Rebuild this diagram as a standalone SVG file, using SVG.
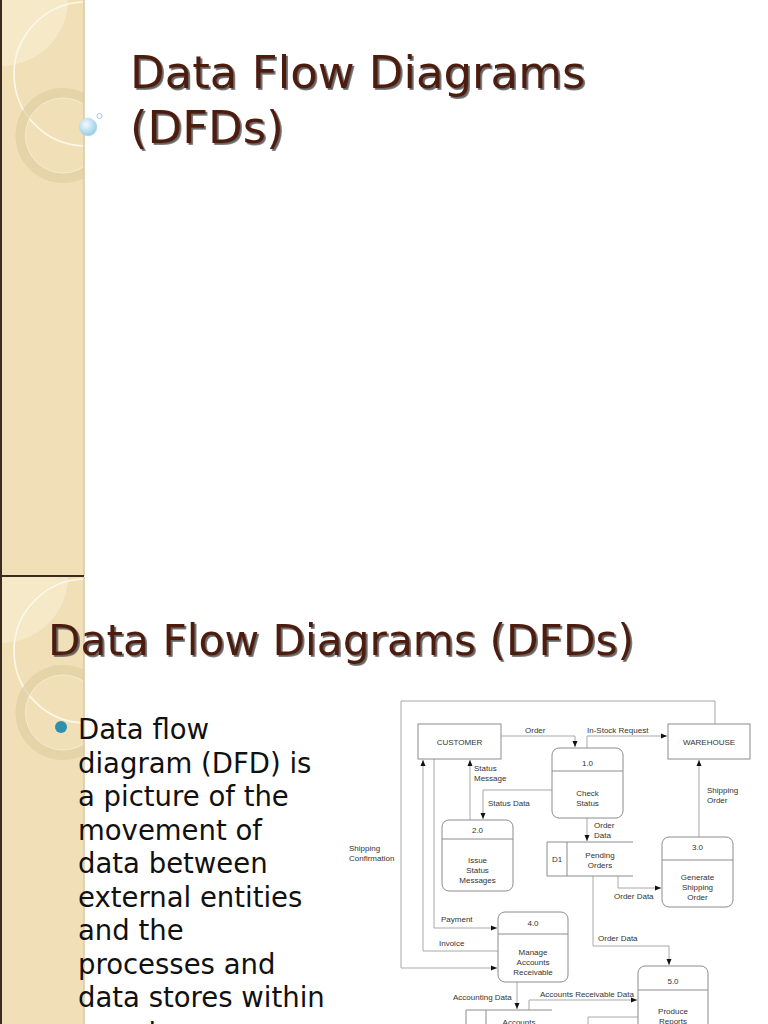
<svg xmlns="http://www.w3.org/2000/svg" width="768" height="1024" viewBox="0 0 768 1024">
<defs>
  <style>
    .title{font-family:"DejaVu Sans","Liberation Sans",sans-serif;fill:#4e1c0e;filter:url(#sh)}
    .body{font-family:"DejaVu Sans","Liberation Sans",sans-serif;font-size:27.5px;fill:#111}
    .dt{font-family:"Liberation Sans",Arial,sans-serif;font-size:8px;fill:#333}
    .c{text-anchor:middle}
    .box{fill:#fff;stroke:#8c8c8c;stroke-width:1}
    .ln{fill:none;stroke:#a8a8a8;stroke-width:1}
    .arr{fill:none;stroke:#a8a8a8;stroke-width:1;marker-end:url(#ah)}
    .strip{fill:#f1e0b7}
  </style>
  <filter id="sh" x="-5%" y="-20%" width="110%" height="140%">
    <feDropShadow dx="1.8" dy="1.8" stdDeviation="0.5" flood-color="#5a5a5a" flood-opacity="0.95"/>
  </filter>
  <marker id="ah" viewBox="0 0 6 6" refX="6" refY="3" markerWidth="6" markerHeight="6" markerUnits="userSpaceOnUse" orient="auto">
    <path d="M0,0.5 L6,3 L0,5.5 Z" fill="#111"/>
  </marker>
  <radialGradient id="bub" cx="0.4" cy="0.35" r="0.7">
    <stop offset="0" stop-color="#f4fbff"/>
    <stop offset="1" stop-color="#8fc8e4"/>
  </radialGradient>
  <clipPath id="cs1"><rect x="0" y="0" width="84" height="576"/></clipPath>
  <clipPath id="cs2"><rect x="0" y="577" width="84" height="447"/></clipPath>
  <g id="deco">
    <path d="M0,0 H68 A68,66 0 0 1 0,66 Z" fill="#fbf3dd" opacity="0.45"/>
    <circle cx="86" cy="74" r="72" fill="none" stroke="#fdf8ea" stroke-width="1.6"/>
    <circle cx="63" cy="135.5" r="42.5" fill="none" stroke="#dccb9f" stroke-width="10" opacity="0.6"/>
    <circle cx="63" cy="135.5" r="37.5" fill="none" stroke="#f8efd6" stroke-width="1" opacity="0.8"/>
  </g>
</defs>
<rect x="0" y="0" width="768" height="1024" fill="#fff"/>

<!-- slide 1 -->
<rect class="strip" x="0" y="0" width="84" height="576"/>
<g clip-path="url(#cs1)"><use href="#deco"/></g>
<line x1="84" y1="0" x2="84" y2="576" stroke="#d9c9a2" stroke-width="1.5"/>
<line x1="1" y1="0" x2="1" y2="576" stroke="#3b2a1e" stroke-width="2"/>
<circle cx="88" cy="127" r="9" fill="url(#bub)" stroke="#b7dcee" stroke-width="0.5"/>
<circle cx="99.5" cy="116" r="2.6" fill="#f4fbff" stroke="#8fc3de" stroke-width="0.8"/>
<text class="title" x="130" y="88" font-size="45">Data Flow Diagrams</text>
<text class="title" x="130" y="143" font-size="45">(DFDs)</text>

<!-- slide 2 -->
<rect class="strip" x="0" y="577" width="84" height="447"/>
<g clip-path="url(#cs2)"><use href="#deco" transform="translate(0,577)"/></g>
<line x1="84" y1="577" x2="84" y2="1024" stroke="#d9c9a2" stroke-width="1.5"/>
<line x1="1" y1="577" x2="1" y2="1024" stroke="#3b2a1e" stroke-width="2"/>
<line x1="0" y1="576" x2="84" y2="576" stroke="#3b2a1e" stroke-width="2"/>
<text class="title" x="48" y="655" font-size="42.3">Data Flow Diagrams (DFDs)</text>
<circle cx="61" cy="727" r="6" fill="#2f8fae"/>
<text class="body">
  <tspan x="78" y="739">Data flow</tspan>
  <tspan x="78" y="772.5">diagram (DFD) is</tspan>
  <tspan x="78" y="806">a picture of the</tspan>
  <tspan x="78" y="839.5">movement of</tspan>
  <tspan x="78" y="873">data between</tspan>
  <tspan x="78" y="906.5">external entities</tspan>
  <tspan x="78" y="940">and the</tspan>
  <tspan x="78" y="973.5">processes and</tspan>
  <tspan x="78" y="1007">data stores within</tspan>
  <tspan x="78" y="1040.5">a system</tspan>
</text>

<!-- DFD connectors -->
<g id="connectors">
  <path class="arr" d="M501,736 H575 V747"/>
  <path class="arr" d="M587,748 V736 H667"/>
  <path class="arr" d="M470,820 V760"/>
  <path class="arr" d="M552,790 H483 V819"/>
  <path class="arr" d="M587,818 V841"/>
  <path class="arr" d="M618,876 V888 H661"/>
  <path class="arr" d="M699,837 V760"/>
  <path class="arr" d="M715,724 V701 H401 V968 H497"/>
  <path class="arr" d="M434,759 V928 H497"/>
  <path class="arr" d="M498,951 H423 V760"/>
  <path class="arr" d="M593,876 V946 H669 V965"/>
  <path class="arr" d="M517,982 V1009"/>
  <path class="arr" d="M529,1010 V1000 H637"/>
  <path class="ln" d="M638,1017 H588 V1024"/>
  <text class="dt" x="525" y="733">Order</text>
  <text class="dt" x="587" y="733">In-Stock Request</text>
  <text class="dt" x="474" y="771">Status</text>
  <text class="dt" x="474" y="781">Message</text>
  <text class="dt" x="488" y="806">Status Data</text>
  <text class="dt" x="594" y="828">Order</text>
  <text class="dt" x="594" y="838">Data</text>
  <text class="dt" x="614" y="899">Order Data</text>
  <text class="dt" x="707" y="793">Shipping</text>
  <text class="dt" x="707" y="803">Order</text>
  <text class="dt" x="349" y="851">Shipping</text>
  <text class="dt" x="349" y="861">Confirmation</text>
  <text class="dt" x="441" y="922">Payment</text>
  <text class="dt" x="439" y="946">Invoice</text>
  <text class="dt" x="598" y="941">Order Data</text>
  <text class="dt" x="453" y="1000">Accounting Data</text>
  <text class="dt" x="540" y="997">Accounts Receivable Data</text>
</g>

<!-- DFD nodes -->
<g id="customer">
  <rect class="box" x="418" y="724" width="83" height="35"/>
  <text class="dt c" x="459.5" y="745">CUSTOMER</text>
</g>
<g id="warehouse">
  <rect class="box" x="668" y="724" width="82" height="35"/>
  <text class="dt c" x="709" y="745">WAREHOUSE</text>
</g>
<g id="p1">
  <rect class="box" x="552" y="748" width="71" height="70" rx="7"/>
  <line x1="552" y1="771" x2="623" y2="771" stroke="#8c8c8c"/>
  <text class="dt c" x="587.5" y="766">1.0</text>
  <text class="dt c" x="587.5" y="796">Check</text>
  <text class="dt c" x="587.5" y="806">Status</text>
</g>
<g id="p2">
  <rect class="box" x="442" y="820" width="71" height="71" rx="7"/>
  <line x1="442" y1="839" x2="513" y2="839" stroke="#8c8c8c"/>
  <text class="dt c" x="477.5" y="833">2.0</text>
  <text class="dt c" x="477.5" y="863">Issue</text>
  <text class="dt c" x="477.5" y="873">Status</text>
  <text class="dt c" x="477.5" y="883">Messages</text>
</g>
<g id="d1">
  <path d="M633,842 H547 V876 H633 M567,842 V876" fill="none" stroke="#8c8c8c"/>
  <text class="dt c" x="557" y="862">D1</text>
  <text class="dt c" x="600" y="858">Pending</text>
  <text class="dt c" x="600" y="868">Orders</text>
</g>
<g id="p3">
  <rect class="box" x="662" y="837" width="71" height="70" rx="7"/>
  <line x1="662" y1="860" x2="733" y2="860" stroke="#8c8c8c"/>
  <text class="dt c" x="697.5" y="850">3.0</text>
  <text class="dt c" x="697.5" y="880">Generate</text>
  <text class="dt c" x="697.5" y="890">Shipping</text>
  <text class="dt c" x="697.5" y="900">Order</text>
</g>
<g id="p4">
  <rect class="box" x="498" y="912" width="70" height="70" rx="7"/>
  <line x1="498" y1="934" x2="568" y2="934" stroke="#8c8c8c"/>
  <text class="dt c" x="533" y="926">4.0</text>
  <text class="dt c" x="533" y="955">Manage</text>
  <text class="dt c" x="533" y="965">Accounts</text>
  <text class="dt c" x="533" y="975">Receivable</text>
</g>
<g id="d2">
  <path d="M552,1010 H466 V1030 M486,1010 V1030" fill="none" stroke="#8c8c8c"/>
  <text class="dt c" x="519" y="1025">Accounts</text>
</g>
<g id="p5">
  <rect class="box" x="638" y="966" width="70" height="80" rx="7"/>
  <line x1="638" y1="990" x2="708" y2="990" stroke="#8c8c8c"/>
  <text class="dt c" x="673" y="984">5.0</text>
  <text class="dt c" x="673" y="1014">Produce</text>
  <text class="dt c" x="673" y="1024">Reports</text>
</g>
</svg>
